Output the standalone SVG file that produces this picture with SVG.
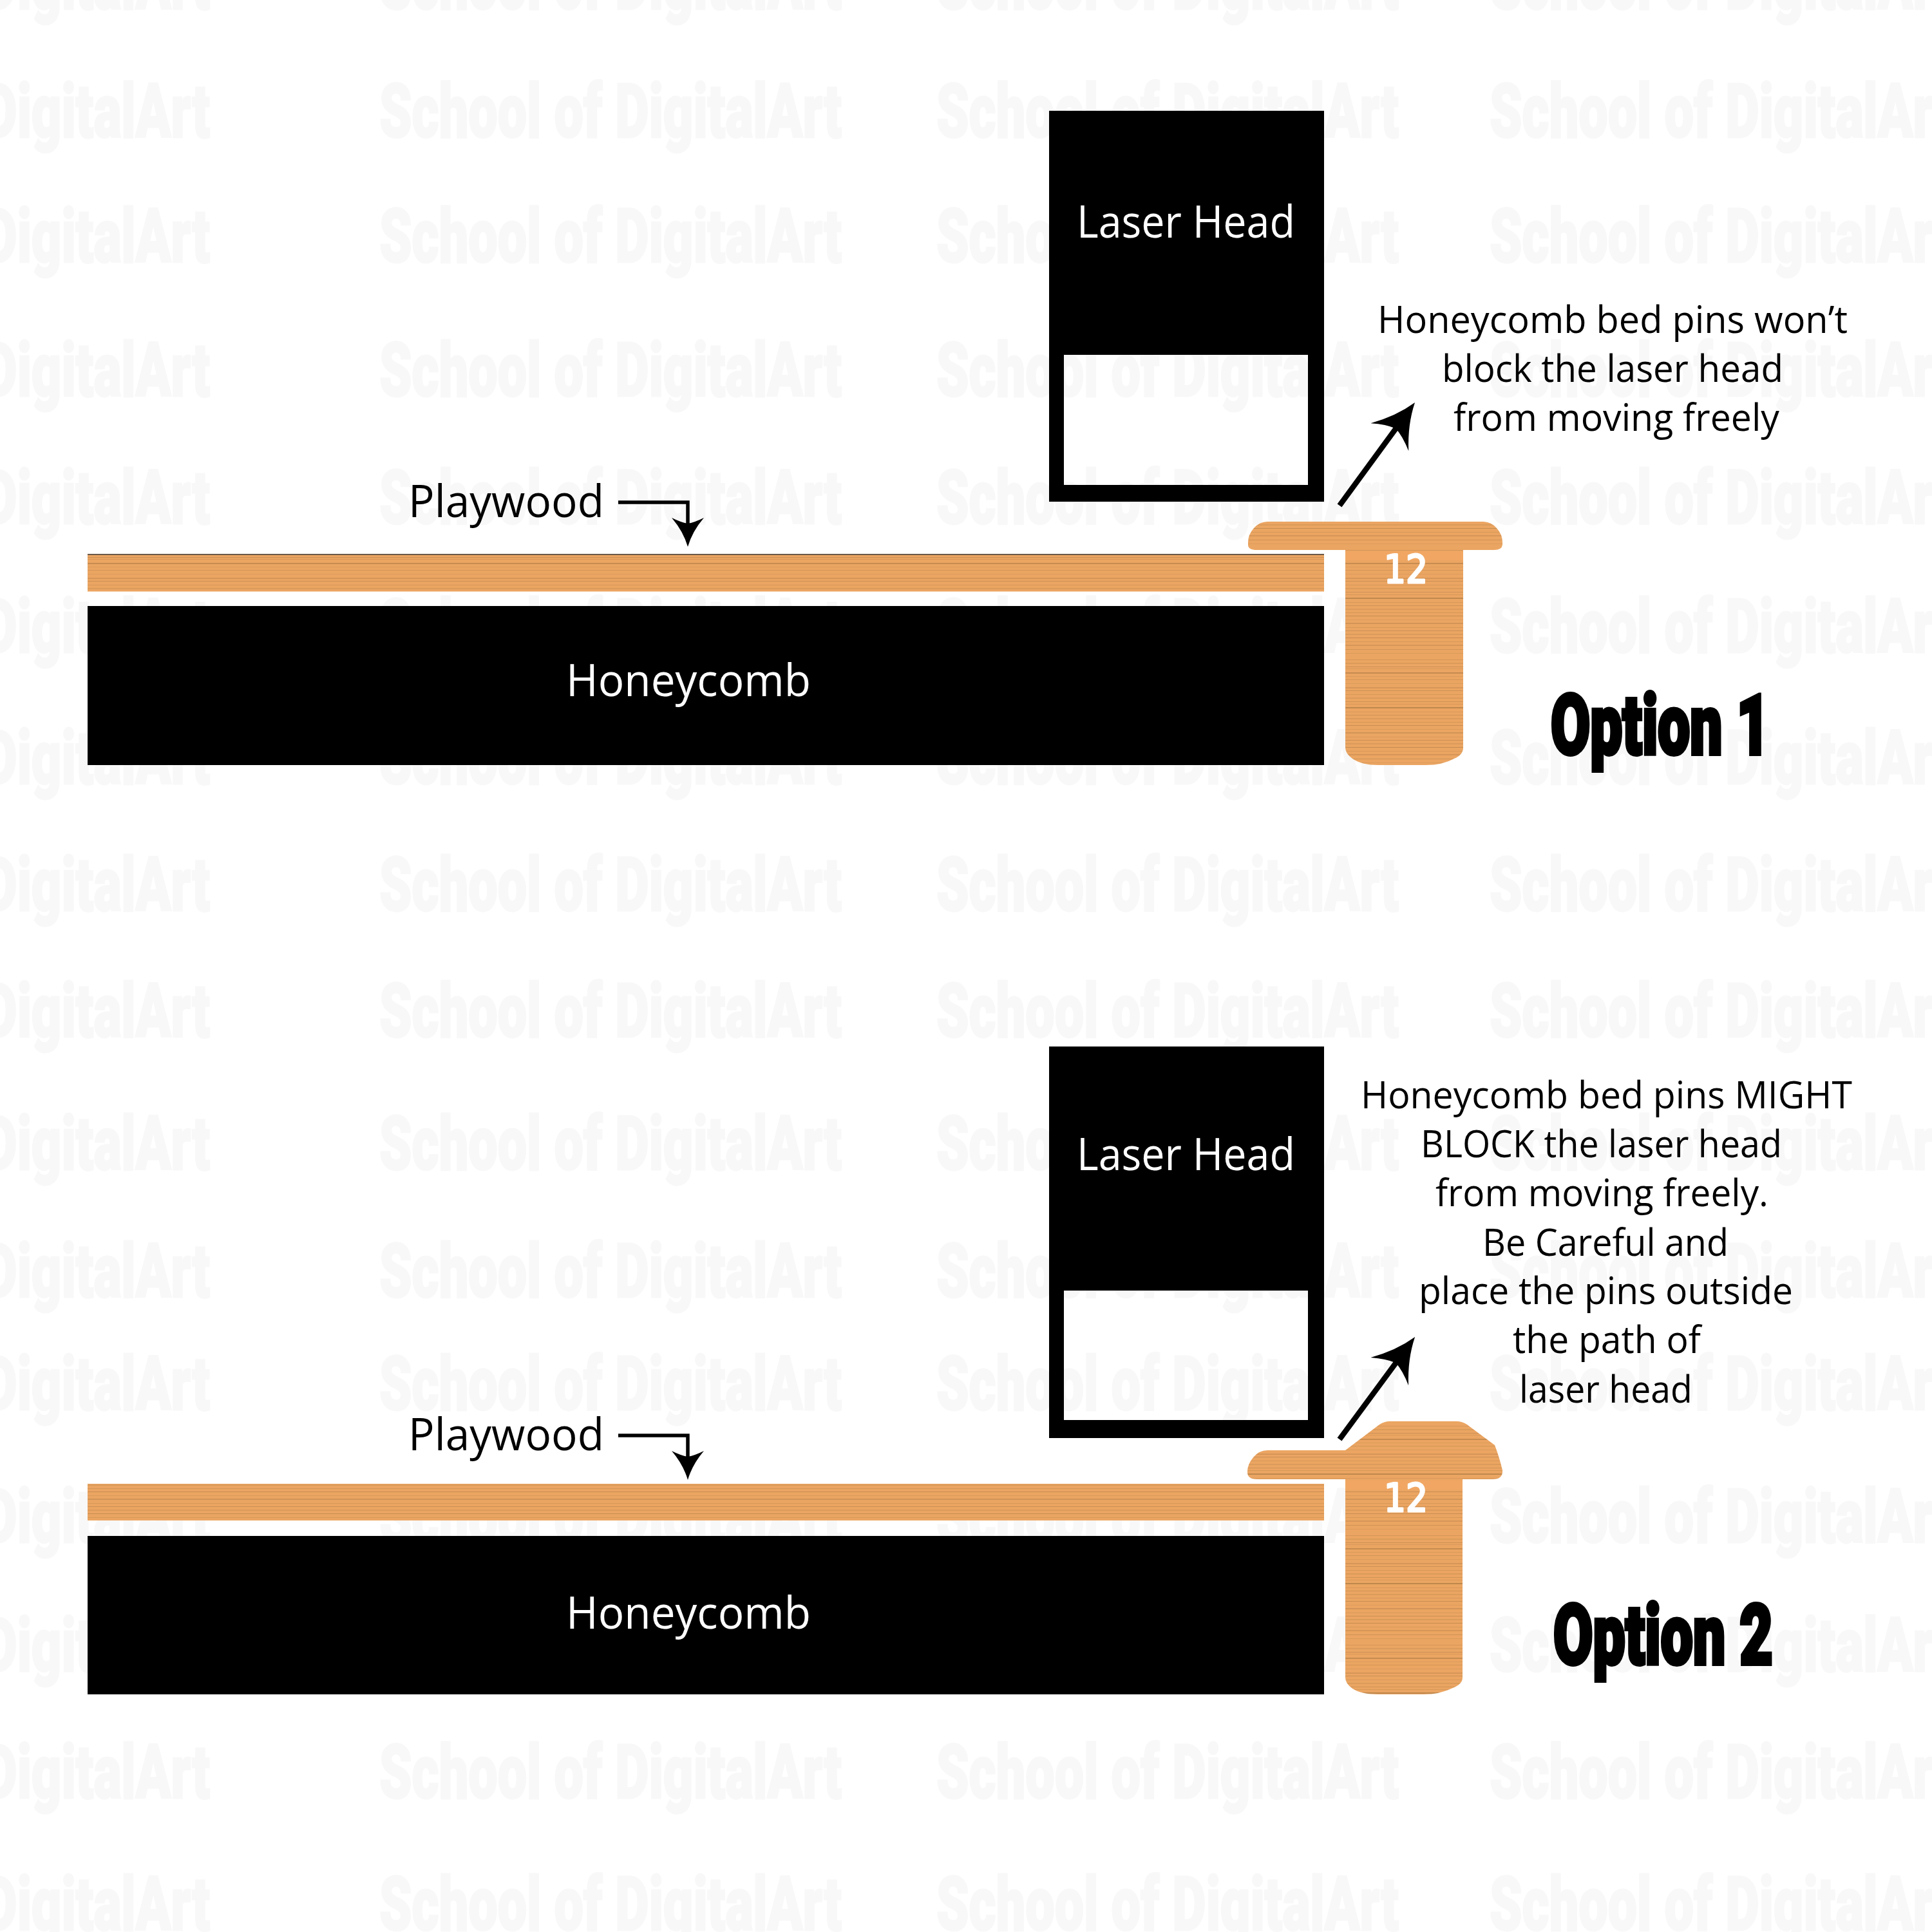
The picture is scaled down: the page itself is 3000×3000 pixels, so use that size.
<svg xmlns="http://www.w3.org/2000/svg" width="3000" height="3000" viewBox="0 0 3000 3000">
<style>
.wm{font-family:"Roboto","Liberation Sans",sans-serif;font-weight:900;font-size:116px;fill:#f8f8f8;stroke:#f8f8f8;stroke-width:3px}
.lbl{font-family:"Open Sans","Noto Sans",sans-serif;font-size:69px}
.note{font-family:"Open Sans","Noto Sans",sans-serif;font-size:59px;fill:#000}
.w{fill:#fff}.k{fill:#000}
.opt{font-family:"Roboto","Liberation Sans",sans-serif;font-weight:900;font-size:130px;fill:#000;stroke:#000;stroke-width:6px}
.num{font-family:"DejaVu Sans",sans-serif;font-weight:400;font-size:60px;fill:#fff;stroke:#fff;stroke-width:3px;stroke-linejoin:round}
.wood{fill:url(#grain)}
.ln{fill:none;stroke:#000}
</style>
<defs>
<pattern id="grain" patternUnits="userSpaceOnUse" width="16" height="170">
<rect width="16" height="170" fill="#eba562"/>
<g fill="#ad7c45" shape-rendering="crispEdges">
<rect y="4" width="16" height="1" opacity=".35"/><rect y="9" width="16" height="2" opacity=".25"/>
<rect y="15" width="16" height="1" opacity=".5"/><rect y="18" width="16" height="1" opacity=".3"/>
<rect y="24" width="16" height="2" opacity=".6"/><rect y="30" width="16" height="1" opacity=".25"/>
<rect y="35" width="16" height="1" opacity=".4"/><rect y="41" width="16" height="1" opacity=".25"/>
<rect y="47" width="16" height="2" opacity=".35"/><rect y="52" width="16" height="1" opacity=".5"/>
<rect y="58" width="16" height="1" opacity=".3"/><rect y="63" width="16" height="2" opacity=".25"/>
<rect y="69" width="16" height="1" opacity=".45"/><rect y="73" width="16" height="1" opacity=".3"/>
<rect y="78" width="16" height="2" opacity=".7"/><rect y="85" width="16" height="1" opacity=".3"/>
<rect y="90" width="16" height="1" opacity=".45"/><rect y="95" width="16" height="2" opacity=".25"/>
<rect y="101" width="16" height="1" opacity=".35"/><rect y="106" width="16" height="1" opacity=".55"/>
<rect y="112" width="16" height="1" opacity=".25"/><rect y="117" width="16" height="2" opacity=".4"/>
<rect y="124" width="16" height="1" opacity=".3"/><rect y="129" width="16" height="1" opacity=".5"/>
<rect y="134" width="16" height="2" opacity=".25"/><rect y="140" width="16" height="1" opacity=".6"/>
<rect y="146" width="16" height="1" opacity=".3"/><rect y="151" width="16" height="2" opacity=".35"/>
<rect y="158" width="16" height="1" opacity=".45"/><rect y="164" width="16" height="1" opacity=".25"/>
</g>
</pattern>
<marker id="headL" markerUnits="userSpaceOnUse" viewBox="0 0 70 76" markerWidth="70" markerHeight="76" refX="30" refY="38" orient="auto">
<path d="M66.500 38Q32 27 0 1.500Q13 22 16.500 38Q13 54 0 74.500Q32 49 66.500 38Z" fill="#000"/>
</marker>
<marker id="headS" markerUnits="userSpaceOnUse" viewBox="0 0 45 50" markerWidth="45" markerHeight="50" refX="20" refY="25" orient="auto">
<path d="M45 25Q21 18 0 0Q7 14 9 25Q7 36 0 50Q21 32 45 25Z" fill="#000"/>
</marker>
</defs>
<rect width="3000" height="3000" fill="#fff"/>
<g id="watermark">
<text class="wm" x="-392" y="14" textLength="718" lengthAdjust="spacingAndGlyphs">School of DigitalArt</text><text class="wm" x="589" y="14" textLength="718" lengthAdjust="spacingAndGlyphs">School of DigitalArt</text><text class="wm" x="1454" y="14" textLength="718" lengthAdjust="spacingAndGlyphs">School of DigitalArt</text><text class="wm" x="2313" y="14" textLength="718" lengthAdjust="spacingAndGlyphs">School of DigitalArt</text>
<text class="wm" x="-392" y="213" textLength="718" lengthAdjust="spacingAndGlyphs">School of DigitalArt</text><text class="wm" x="589" y="213" textLength="718" lengthAdjust="spacingAndGlyphs">School of DigitalArt</text><text class="wm" x="1454" y="213" textLength="718" lengthAdjust="spacingAndGlyphs">School of DigitalArt</text><text class="wm" x="2313" y="213" textLength="718" lengthAdjust="spacingAndGlyphs">School of DigitalArt</text>
<text class="wm" x="-392" y="407" textLength="718" lengthAdjust="spacingAndGlyphs">School of DigitalArt</text><text class="wm" x="589" y="407" textLength="718" lengthAdjust="spacingAndGlyphs">School of DigitalArt</text><text class="wm" x="1454" y="407" textLength="718" lengthAdjust="spacingAndGlyphs">School of DigitalArt</text><text class="wm" x="2313" y="407" textLength="718" lengthAdjust="spacingAndGlyphs">School of DigitalArt</text>
<text class="wm" x="-392" y="615" textLength="718" lengthAdjust="spacingAndGlyphs">School of DigitalArt</text><text class="wm" x="589" y="615" textLength="718" lengthAdjust="spacingAndGlyphs">School of DigitalArt</text><text class="wm" x="1454" y="615" textLength="718" lengthAdjust="spacingAndGlyphs">School of DigitalArt</text><text class="wm" x="2313" y="615" textLength="718" lengthAdjust="spacingAndGlyphs">School of DigitalArt</text>
<text class="wm" x="-392" y="813" textLength="718" lengthAdjust="spacingAndGlyphs">School of DigitalArt</text><text class="wm" x="589" y="813" textLength="718" lengthAdjust="spacingAndGlyphs">School of DigitalArt</text><text class="wm" x="1454" y="813" textLength="718" lengthAdjust="spacingAndGlyphs">School of DigitalArt</text><text class="wm" x="2313" y="813" textLength="718" lengthAdjust="spacingAndGlyphs">School of DigitalArt</text>
<text class="wm" x="-392" y="1013" textLength="718" lengthAdjust="spacingAndGlyphs">School of DigitalArt</text><text class="wm" x="589" y="1013" textLength="718" lengthAdjust="spacingAndGlyphs">School of DigitalArt</text><text class="wm" x="1454" y="1013" textLength="718" lengthAdjust="spacingAndGlyphs">School of DigitalArt</text><text class="wm" x="2313" y="1013" textLength="718" lengthAdjust="spacingAndGlyphs">School of DigitalArt</text>
<text class="wm" x="-392" y="1217" textLength="718" lengthAdjust="spacingAndGlyphs">School of DigitalArt</text><text class="wm" x="589" y="1217" textLength="718" lengthAdjust="spacingAndGlyphs">School of DigitalArt</text><text class="wm" x="1454" y="1217" textLength="718" lengthAdjust="spacingAndGlyphs">School of DigitalArt</text><text class="wm" x="2313" y="1217" textLength="718" lengthAdjust="spacingAndGlyphs">School of DigitalArt</text>
<text class="wm" x="-392" y="1414" textLength="718" lengthAdjust="spacingAndGlyphs">School of DigitalArt</text><text class="wm" x="589" y="1414" textLength="718" lengthAdjust="spacingAndGlyphs">School of DigitalArt</text><text class="wm" x="1454" y="1414" textLength="718" lengthAdjust="spacingAndGlyphs">School of DigitalArt</text><text class="wm" x="2313" y="1414" textLength="718" lengthAdjust="spacingAndGlyphs">School of DigitalArt</text>
<text class="wm" x="-392" y="1610" textLength="718" lengthAdjust="spacingAndGlyphs">School of DigitalArt</text><text class="wm" x="589" y="1610" textLength="718" lengthAdjust="spacingAndGlyphs">School of DigitalArt</text><text class="wm" x="1454" y="1610" textLength="718" lengthAdjust="spacingAndGlyphs">School of DigitalArt</text><text class="wm" x="2313" y="1610" textLength="718" lengthAdjust="spacingAndGlyphs">School of DigitalArt</text>
<text class="wm" x="-392" y="1816" textLength="718" lengthAdjust="spacingAndGlyphs">School of DigitalArt</text><text class="wm" x="589" y="1816" textLength="718" lengthAdjust="spacingAndGlyphs">School of DigitalArt</text><text class="wm" x="1454" y="1816" textLength="718" lengthAdjust="spacingAndGlyphs">School of DigitalArt</text><text class="wm" x="2313" y="1816" textLength="718" lengthAdjust="spacingAndGlyphs">School of DigitalArt</text>
<text class="wm" x="-392" y="2014" textLength="718" lengthAdjust="spacingAndGlyphs">School of DigitalArt</text><text class="wm" x="589" y="2014" textLength="718" lengthAdjust="spacingAndGlyphs">School of DigitalArt</text><text class="wm" x="1454" y="2014" textLength="718" lengthAdjust="spacingAndGlyphs">School of DigitalArt</text><text class="wm" x="2313" y="2014" textLength="718" lengthAdjust="spacingAndGlyphs">School of DigitalArt</text>
<text class="wm" x="-392" y="2189" textLength="718" lengthAdjust="spacingAndGlyphs">School of DigitalArt</text><text class="wm" x="589" y="2189" textLength="718" lengthAdjust="spacingAndGlyphs">School of DigitalArt</text><text class="wm" x="1454" y="2189" textLength="718" lengthAdjust="spacingAndGlyphs">School of DigitalArt</text><text class="wm" x="2313" y="2189" textLength="718" lengthAdjust="spacingAndGlyphs">School of DigitalArt</text>
<text class="wm" x="-392" y="2395" textLength="718" lengthAdjust="spacingAndGlyphs">School of DigitalArt</text><text class="wm" x="589" y="2395" textLength="718" lengthAdjust="spacingAndGlyphs">School of DigitalArt</text><text class="wm" x="1454" y="2395" textLength="718" lengthAdjust="spacingAndGlyphs">School of DigitalArt</text><text class="wm" x="2313" y="2395" textLength="718" lengthAdjust="spacingAndGlyphs">School of DigitalArt</text>
<text class="wm" x="-392" y="2595" textLength="718" lengthAdjust="spacingAndGlyphs">School of DigitalArt</text><text class="wm" x="589" y="2595" textLength="718" lengthAdjust="spacingAndGlyphs">School of DigitalArt</text><text class="wm" x="1454" y="2595" textLength="718" lengthAdjust="spacingAndGlyphs">School of DigitalArt</text><text class="wm" x="2313" y="2595" textLength="718" lengthAdjust="spacingAndGlyphs">School of DigitalArt</text>
<text class="wm" x="-392" y="2792" textLength="718" lengthAdjust="spacingAndGlyphs">School of DigitalArt</text><text class="wm" x="589" y="2792" textLength="718" lengthAdjust="spacingAndGlyphs">School of DigitalArt</text><text class="wm" x="1454" y="2792" textLength="718" lengthAdjust="spacingAndGlyphs">School of DigitalArt</text><text class="wm" x="2313" y="2792" textLength="718" lengthAdjust="spacingAndGlyphs">School of DigitalArt</text>
<text class="wm" x="-392" y="2997" textLength="718" lengthAdjust="spacingAndGlyphs">School of DigitalArt</text><text class="wm" x="589" y="2997" textLength="718" lengthAdjust="spacingAndGlyphs">School of DigitalArt</text><text class="wm" x="1454" y="2997" textLength="718" lengthAdjust="spacingAndGlyphs">School of DigitalArt</text><text class="wm" x="2313" y="2997" textLength="718" lengthAdjust="spacingAndGlyphs">School of DigitalArt</text>
</g>
<g id="connectors">
<path class="ln" stroke-width="8.500" marker-end="url(#headL)" d="M2080 785L2175.500 654.500"/>
<path class="ln" stroke-width="8.500" marker-end="url(#headL)" d="M2080 2235L2175.500 2105.500"/>
<path class="ln" stroke-width="5.500" marker-end="url(#headS)" d="M960 780H1068V824"/>
<path class="ln" stroke-width="5.500" marker-end="url(#headS)" d="M960 2229H1068V2273"/>
</g>
<g id="option-1">
<text id="playwood-1-label" class="lbl k" x="634" y="803" textLength="304" lengthAdjust="spacingAndGlyphs">Playwood</text>
<g id="plywood-1"><rect class="wood" x="136" y="861" width="1920" height="57.500"/><rect x="136" y="860" width="1920" height="2" fill="#6b5a48"/></g>
<g id="honeycomb-1"><rect class="k" x="136" y="941" width="1920" height="247"/><text class="lbl w" x="879" y="1081" textLength="380" lengthAdjust="spacingAndGlyphs">Honeycomb</text></g>
<g id="laser-head-1"><path class="k" fill-rule="evenodd" d="M1629 172H2056V779H1629ZM1652 551V753H2031V551Z"/><text class="lbl w" x="1672" y="369" textLength="339" lengthAdjust="spacingAndGlyphs">Laser Head</text></g>
<g id="pin-1">
<path class="wood" d="M1938 842Q1938 830 1947 820Q1956 810 1968 810H2303Q2315 810 2324 820Q2333 830 2333 842V846Q2332 854 2320 854H2272V1161Q2272 1172 2258 1178Q2240 1188 2214 1188H2140Q2114 1188 2100 1178Q2089 1170 2089 1161V854H1952Q1938 854 1938 846Z"/>
<rect x="2089" y="856" width="183" height="14" fill="#f1a763"/>
<text class="num" x="2149" y="905" textLength="68" lengthAdjust="spacingAndGlyphs">12</text>
</g>
<g id="note-1">
<text class="note" x="2139" y="517" textLength="730" lengthAdjust="spacingAndGlyphs">Honeycomb bed pins won’t</text>
<text class="note" x="2239" y="593" textLength="530" lengthAdjust="spacingAndGlyphs">block the laser head</text>
<text class="note" x="2257" y="669" textLength="506" lengthAdjust="spacingAndGlyphs">from moving freely</text>
</g>
<g id="option-1-title"><text class="opt" x="2408" y="1171" textLength="340" lengthAdjust="spacingAndGlyphs">Option 1</text></g>
</g>
<g id="option-2">
<text id="playwood-2-label" class="lbl k" x="634" y="2252" textLength="304" lengthAdjust="spacingAndGlyphs">Playwood</text>
<g id="plywood-2"><rect class="wood" x="136" y="2304" width="1920" height="57"/></g>
<g id="honeycomb-2"><rect class="k" x="136" y="2385" width="1920" height="246"/><text class="lbl w" x="879" y="2529" textLength="380" lengthAdjust="spacingAndGlyphs">Honeycomb</text></g>
<g id="laser-head-2"><path class="k" fill-rule="evenodd" d="M1629 1625H2056V2233H1629ZM1652 2004V2205H2031V2004Z"/><text class="lbl w" x="1672" y="1817" textLength="339" lengthAdjust="spacingAndGlyphs">Laser Head</text></g>
<g id="pin-2">
<path class="wood" d="M1937 2285Q1937 2274 1946 2263Q1955 2252 1968 2252H2089L2142 2212Q2150 2207 2158 2207H2262Q2270 2207 2278 2212L2321 2244Q2328 2262 2333 2283V2286Q2332 2297 2318 2297H2271V2605Q2271 2615 2256 2621Q2236 2631 2210 2631H2140Q2114 2631 2100 2622Q2089 2614 2089 2605V2297H1952Q1937 2297 1937 2286Z"/>
<rect x="2089" y="2299" width="182" height="14" fill="#f1a763"/>
<text class="num" x="2149" y="2347" textLength="68" lengthAdjust="spacingAndGlyphs">12</text>
</g>
<g id="note-2">
<text class="note" x="2113" y="1721" textLength="763" lengthAdjust="spacingAndGlyphs">Honeycomb bed pins MIGHT</text>
<text class="note" x="2206" y="1797" textLength="561" lengthAdjust="spacingAndGlyphs">BLOCK the laser head</text>
<text class="note" x="2229" y="1873" textLength="517" lengthAdjust="spacingAndGlyphs">from moving freely.</text>
<text class="note" x="2302" y="1950" textLength="382" lengthAdjust="spacingAndGlyphs">Be Careful and</text>
<text class="note" x="2203" y="2025" textLength="581" lengthAdjust="spacingAndGlyphs">place the pins outside</text>
<text class="note" x="2349" y="2101" textLength="292" lengthAdjust="spacingAndGlyphs">the path of</text>
<text class="note" x="2359" y="2178" textLength="269" lengthAdjust="spacingAndGlyphs">laser head</text>
</g>
<g id="option-2-title"><text class="opt" x="2412" y="2584" textLength="341" lengthAdjust="spacingAndGlyphs">Option 2</text></g>
</g>
</svg>
